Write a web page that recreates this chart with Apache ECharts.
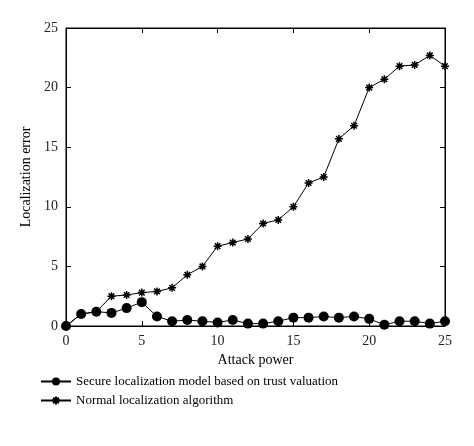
<!DOCTYPE html><html><head><meta charset="utf-8"><script src="https://cdn.jsdelivr.net/npm/echarts@6/dist/echarts.min.js"></script></head><body style="margin:0;background:#fff"><div id="c" style="width:474px;height:446px"></div><script>
const xs=[];for(let i=0;i<=25;i++)xs.push(i);
const secure=[0,1.0,1.2,1.1,1.5,2.0,0.8,0.4,0.5,0.4,0.3,0.5,0.2,0.2,0.4,0.7,0.7,0.8,0.7,0.8,0.6,0.1,0.4,0.4,0.2,0.4];
const normal=[0,1.0,1.2,2.5,2.6,2.8,2.9,3.2,4.3,5.0,6.7,7.0,7.3,8.6,8.9,10.0,12.0,12.5,15.7,16.8,20.0,20.7,21.8,21.9,22.7,21.8];
const F='Liberation Serif';
const pair=a=>a.map((v,i)=>[xs[i],v]);
const axl={show:true,onZero:false,lineStyle:{color:'#000',width:1}};
const tk={show:true,inside:true,length:5,lineStyle:{color:'#000'}};
const lbl={color:'#222',fontFamily:F,fontSize:14};
const star='path://M0,-10L0,10M-10,0L10,0M-7,-7L7,7M-7,7L7,-7';
echarts.init(document.getElementById('c')).setOption({
animation:false,
grid:{left:66,right:29,top:28,bottom:120,show:true,borderColor:'#000',borderWidth:1,backgroundColor:'transparent'},
xAxis:[{type:'value',min:0,max:25,interval:5,axisLine:axl,axisTick:tk,splitLine:{show:false},axisLabel:lbl,name:'Attack power',nameLocation:'middle',nameGap:22,nameTextStyle:{color:'#000',fontFamily:F,fontSize:14}},
{type:'value',show:true,position:'top',min:0,max:25,interval:5,axisLine:axl,axisTick:tk,axisLabel:{show:false},splitLine:{show:false}}],
yAxis:[{type:'value',min:0,max:25,interval:5,axisLine:axl,axisTick:tk,splitLine:{show:false},axisLabel:lbl,name:'Localization error',nameLocation:'middle',nameGap:32,nameTextStyle:{color:'#000',fontFamily:F,fontSize:14}},
{type:'value',show:true,position:'right',min:0,max:25,interval:5,axisLine:axl,axisTick:tk,axisLabel:{show:false},splitLine:{show:false}}],
legend:{orient:'vertical',left:35,top:370,itemGap:6,itemWidth:30,itemHeight:10,textStyle:{color:'#000',fontFamily:F,fontSize:13},
data:[{name:'Secure localization model based on trust valuation'},{name:'Normal localization algorithm'}]},
series:[
{name:'Secure localization model based on trust valuation',type:'line',data:pair(secure),symbol:'circle',symbolSize:10,lineStyle:{color:'#000',width:1},itemStyle:{color:'#000'}},
{name:'Normal localization algorithm',type:'line',data:pair(normal),symbol:star,symbolSize:8,lineStyle:{color:'#000',width:1},itemStyle:{color:'#000',borderColor:'#000',borderWidth:1.5}},
{type:'line',xAxisIndex:1,yAxisIndex:1,data:[],silent:true}
]});
</script></body></html>
